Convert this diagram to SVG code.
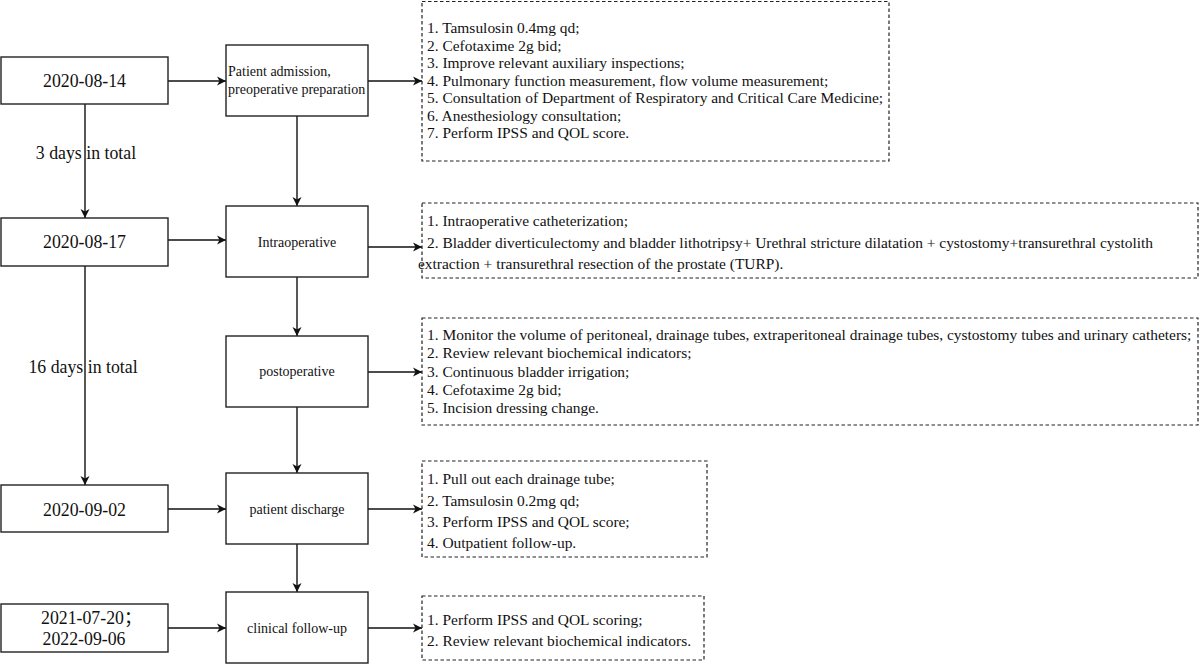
<svg xmlns="http://www.w3.org/2000/svg" width="1200" height="665" viewBox="0 0 1200 665">
<style>
.bg{fill:#fff}
.box{fill:#fff;stroke:#222;stroke-width:1.4}
.dash{fill:#fff;stroke:#222;stroke-width:1.2;stroke-dasharray:3.5 2.5}
.t{font-family:"Liberation Serif","Times New Roman",serif;fill:#111}
.date{font-size:17.8px;text-anchor:middle}
.proc{font-size:14px;text-anchor:middle}
.list{font-size:15.45px}
.lbl{font-size:17.8px;text-anchor:middle}
.cn{fill:none;stroke:#111;stroke-width:1.4}
</style>
<defs>
<marker id="ah" markerWidth="12" markerHeight="12" refX="10" refY="6" orient="auto" markerUnits="userSpaceOnUse">
<path d="M1,1.5 L10,6 L1,10.5 L3.5,6 Z" fill="#111"/>
</marker>
</defs>
<rect class="bg" x="0" y="0" width="1200" height="665"/>

<g id="connectors">
<line class="cn" x1="168" y1="81" x2="226" y2="81" marker-end="url(#ah)"/>
<line class="cn" x1="368" y1="81" x2="422" y2="81" marker-end="url(#ah)"/>
<line class="cn" x1="85" y1="104" x2="85" y2="218" marker-end="url(#ah)"/>
<line class="cn" x1="297" y1="116" x2="297" y2="206" marker-end="url(#ah)"/>
<line class="cn" x1="168" y1="240" x2="226" y2="240" marker-end="url(#ah)"/>
<line class="cn" x1="368" y1="247" x2="422" y2="247" marker-end="url(#ah)"/>
<line class="cn" x1="85" y1="266" x2="85" y2="485" marker-end="url(#ah)"/>
<line class="cn" x1="297" y1="277" x2="297" y2="336" marker-end="url(#ah)"/>
<line class="cn" x1="368" y1="372" x2="422" y2="372" marker-end="url(#ah)"/>
<line class="cn" x1="297" y1="407" x2="297" y2="473" marker-end="url(#ah)"/>
<line class="cn" x1="168" y1="509" x2="226" y2="509" marker-end="url(#ah)"/>
<line class="cn" x1="368" y1="509" x2="422" y2="509" marker-end="url(#ah)"/>
<line class="cn" x1="297" y1="544" x2="297" y2="592" marker-end="url(#ah)"/>
<line class="cn" x1="168" y1="628" x2="226" y2="628" marker-end="url(#ah)"/>
<line class="cn" x1="368" y1="628" x2="422" y2="628" marker-end="url(#ah)"/>
<text class="t lbl" x="86" y="159">3 days in total</text>
<text class="t lbl" x="83" y="373">16 days in total</text>
</g>

<g id="date1">
<rect class="box" x="1" y="57" width="167" height="47"/>
<text class="t date" x="84.5" y="87">2020-08-14</text>
</g>
<g id="date2">
<rect class="box" x="1" y="218" width="167" height="48"/>
<text class="t date" x="84.5" y="248">2020-08-17</text>
</g>
<g id="date3">
<rect class="box" x="1" y="485" width="167" height="47"/>
<text class="t date" x="84.5" y="516">2020-09-02</text>
</g>
<g id="date4">
<rect class="box" x="1" y="604" width="167" height="48"/>
<text class="t" x="41" y="624" style="font-size:17.8px;font-family:'Liberation Serif','Noto Sans CJK SC',serif">2021-07-20；</text>
<text class="t date" x="84" y="645">2022-09-06</text>
</g>

<g id="admission">
<rect class="box" x="226" y="45" width="142" height="71"/>
<text class="t" x="228" y="76" style="font-size:14px">Patient admission,</text>
<text class="t" x="228" y="94" style="font-size:14px">preoperative preparation</text>
</g>
<g id="intraoperative">
<rect class="box" x="226" y="206" width="142" height="71"/>
<text class="t proc" x="297" y="247">Intraoperative</text>
</g>
<g id="postoperative">
<rect class="box" x="226" y="336" width="142" height="71"/>
<text class="t proc" x="297" y="376">postoperative</text>
</g>
<g id="discharge">
<rect class="box" x="226" y="473" width="142" height="71"/>
<text class="t proc" x="297" y="514">patient discharge</text>
</g>
<g id="followup">
<rect class="box" x="226" y="592" width="142" height="71"/>
<text class="t proc" x="297" y="633">clinical follow-up</text>
</g>

<g id="notes-admission">
<rect class="dash" x="422" y="1.5" width="467" height="159.5"/>
<text class="t list" x="427" y="33">1. Tamsulosin 0.4mg qd;</text>
<text class="t list" x="427" y="50.5">2. Cefotaxime 2g bid;</text>
<text class="t list" x="427" y="68">3. Improve relevant auxiliary inspections;</text>
<text class="t list" x="427" y="85.5">4. Pulmonary function measurement, flow volume measurement;</text>
<text class="t list" x="427" y="103">5. Consultation of Department of Respiratory and Critical Care Medicine;</text>
<text class="t list" x="427" y="120.5">6. Anesthesiology consultation;</text>
<text class="t list" x="427" y="138">7. Perform IPSS and QOL score.</text>
</g>
<g id="notes-intraoperative">
<rect class="dash" x="422" y="203" width="776" height="75"/>
<text class="t list" x="427" y="226">1. Intraoperative catheterization;</text>
<text class="t list" x="427" y="248" textLength="726" lengthAdjust="spacing">2. Bladder diverticulectomy and bladder lithotripsy+ Urethral stricture dilatation + cystostomy+transurethral cystolith</text>
<text class="t list" x="418" y="269">extraction + transurethral resection of the prostate (TURP).</text>
</g>
<g id="notes-postoperative">
<rect class="dash" x="422" y="318" width="776" height="107"/>
<text class="t list" x="427" y="340">1. Monitor the volume of peritoneal, drainage tubes, extraperitoneal drainage tubes, cystostomy tubes and urinary catheters;</text>
<text class="t list" x="427" y="358">2. Review relevant biochemical indicators;</text>
<text class="t list" x="427" y="376.5">3. Continuous bladder irrigation;</text>
<text class="t list" x="427" y="394.5">4. Cefotaxime 2g bid;</text>
<text class="t list" x="427" y="413">5. Incision dressing change.</text>
</g>
<g id="notes-discharge">
<rect class="dash" x="422" y="461" width="285" height="96"/>
<text class="t list" x="427" y="484">1. Pull out each drainage tube;</text>
<text class="t list" x="427" y="505.5">2. Tamsulosin 0.2mg qd;</text>
<text class="t list" x="427" y="526.5">3. Perform IPSS and QOL score;</text>
<text class="t list" x="427" y="547.5">4. Outpatient follow-up.</text>
</g>
<g id="notes-followup">
<rect class="dash" x="422" y="596" width="282" height="64"/>
<text class="t list" x="427" y="625">1. Perform IPSS and QOL scoring;</text>
<text class="t list" x="427" y="646">2. Review relevant biochemical indicators.</text>
</g>
</svg>
